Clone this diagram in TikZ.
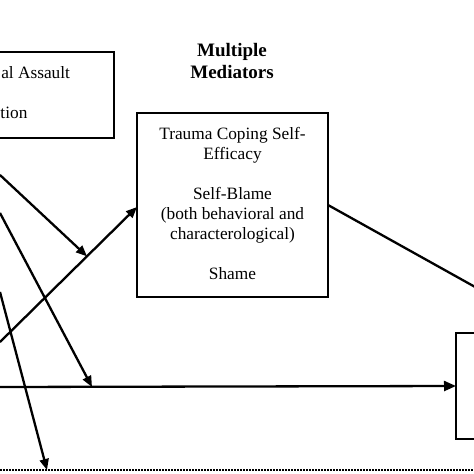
\documentclass[tikz,border=0pt]{standalone}
\usepackage{fontspec}
\setmainfont{Liberation Serif}
\usetikzlibrary{arrows.meta}
\begin{document}
\begin{tikzpicture}[x=1pt,y=-1pt,
  every node/.style={font=\fontsize{17.3}{20}\selectfont, inner sep=0pt, outer sep=0pt},
  boxstyle/.style={draw, line width=2.4pt, inner sep=0pt},
  txt/.style={align=center},
  titletxt/.style={align=center, font=\fontsize{19}{22}\selectfont\bfseries},
  conn/.style={line width=2.3pt, -{Triangle[length=11pt,width=9pt]}},
  plainline/.style={line width=2.3pt},
  dotline/.style={line width=2.4pt, dash pattern=on 1.5pt off 1.5pt}]
\useasboundingbox (0,0) rectangle (474,474);
\clip (0,0) rectangle (474,474);
% boxes
\node[boxstyle, minimum width=174pt, minimum height=86pt] (pred) at (27,95) {};
\node[boxstyle, minimum width=191pt, minimum height=184pt] (med) at (232.5,205) {};
\node[boxstyle, minimum width=84pt, minimum height=106pt] (out) at (498,386) {};
% texts
\node[anchor=base east] (predA) at (70,78) {al Assault};
\node[anchor=base west] (predB) at (0.5,118) {tion};
\node[titletxt] (title) at (232,60.8) {Multiple\\Mediators};
\node[txt] (medtext) at (232.5,203.2) {Trauma Coping Self-\\Efficacy\\[20pt]Self-Blame\\(both behavioral and\\characterological)\\[20pt]Shame};
% coordinates
\coordinate (s1) at (0,175);
\coordinate (s2) at (0,342);
\coordinate (s3) at (0,213);
\coordinate (s4) at (0,292);
\coordinate (s5) at (0,387);
\coordinate (t1) at (87,256.3);
\coordinate (t3) at (92,387);
\coordinate (t4) at (47,470);
\coordinate (far) at (520,312);
\coordinate (dl) at (0,470);
\coordinate (dr) at (474,470);
% connectors
\draw[conn] (s2) -- ([yshift=-2pt]med.west);
\draw[conn] (s1) -- (t1);
\draw[conn] (s3) -- (t3);
\draw[conn] (s4) -- (t4);
\draw[conn, -{Triangle[length=12pt,width=10pt]}] (s5) -- (out.west);
\draw[plainline] (med.east) -- (far);
\draw[dotline] (dl) -- (dr);
\end{tikzpicture}
\end{document}
